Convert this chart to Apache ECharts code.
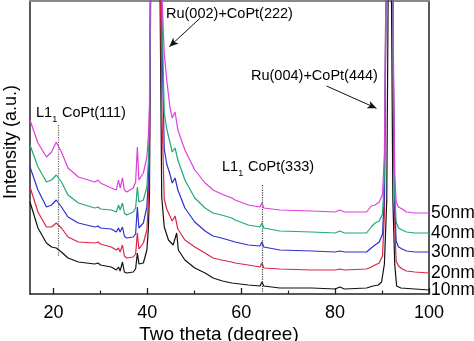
<!DOCTYPE html>
<html>
<head>
<meta charset="utf-8">
<script src="https://cdn.jsdelivr.net/npm/echarts@6/dist/echarts.min.js"></script>
<style>html,body{margin:0;padding:0;background:#fff;}#c{width:474px;height:341px;}</style>
</head>
<body>
<div id="c"></div>
<script>
// Two-theta positions (degrees) shared by the 20-50 nm curves
var thetaCommon = [15.0,16.7,18.5,19.6,20.6,21.7,23.1,25.3,28.8,29.5,30.0,32.3,33.4,33.85,34.2,34.7,35.1,35.6,37.0,37.5,37.87,38.2,39.15,39.9,40.2,40.45,40.7,41.2,41.7,42.2,42.7,43.1,43.6,44.13,44.8,45.3,45.9,46.5,48.0,50.1,52.3,53.3,53.6,54.0,55.8,58.0,58.3,58.7,61.5,64.0,64.4,64.8,68.2,75,80,81,82,86.7,87.7,88.5,89.4,90.1,90.5,90.8,91.2,91.7,92.1,92.4,92.7,93.0,93.5,94.3,95.2,97,100];
var int50 = [174,151,137,142,152,142,126,117,112,114,111,106,104,114,106,116,104,102,106,112,147,114,121,137,157,190,350,900,1200,900,400,300,240,214,187,176,182,164,144,124,111,107,109,104,100,96,98,94,89,87,91,86,84,83,82,84,82,82,88,89,92,100,140,300,800,1200,700,250,120,92,87,85,82,81,81];
var int40 = [149,127,112,114,119,112,99,91,86,87,85,84,82,89,84,91,81,79,82,86,107,92,94,107,131,170,340,900,1200,900,400,280,181,165,152,142,146,134,114,96,86,83,85,81,79,76,77,74,69,67,71,66,63,62,61,63,61,61,67,71,73,80,120,300,800,1200,700,230,100,72,66,64,62,61,61];
var int30 = [127,104,87,89,94,87,77,71,67,68,66,65,62,66,62,67,58,56,57,60,87,66,71,87,114,155,330,900,1200,900,400,260,145,130,120,111,116,104,86,72,63,60,62,58,56,53,55,52,49,48,52,47,44,43,42,43,42,42,46,49,52,60,100,280,800,1200,700,220,90,53,47,45,43,42,42];
var int20 = [107,82,67,67,71,66,57,52,51,52,50,47,44,46,42,49,38,36,37,40,61,45,51,64,91,135,320,900,1200,900,350,180,95,85,78,73,78,65,54,47,41,38,39,36,34,32,33,31,29,27,31,26,25,24,24,25,24,25,27,29,31,38,80,260,800,1200,700,200,70,33,28,25,23,22,21];
// 10 nm curve has its own sampling (narrower 91.5 peak)
var theta10 = [15.0,16.7,18.5,19.6,20.6,21.7,23.1,25.3,28.8,29.5,30.0,32.3,33.4,33.85,34.2,34.7,35.1,35.6,37.0,37.5,37.87,38.2,39.15,39.9,40.2,40.45,40.7,41.2,41.7,42.2,42.7,43.06,43.6,44.5,45.5,46.25,46.6,48.0,50.1,52.3,54.0,56.0,58.0,61.5,64.0,64.4,64.8,68.2,75,80,81,82,86.7,88.1,89.2,89.9,90.5,91.0,91.3,91.7,92.0,92.3,92.7,93.1,94,97,100];
var int10 = [92,66,51,47,46,42,36,32,30,31,29,27,24,27,23,32,22,21,22,25,41,30,31,44,64,100,300,900,1200,900,300,97,67,54,49,61,44,34,26,21,16,13,11,9,8,12,8,6,6,5,7,5,6,8,9,12,30,94,300,1000,300,94,30,8,6,5,4];

var seriesNames = ['10nm','20nm','30nm','40nm','50nm'];
var seriesColors = ['#111111','#dc2447','#2f2fd0','#1fa878','#dd3fdd'];
var xTickLabels = [20,40,60,80,100];
var xMinorTicks = [30,50,70,90];
var annotations = ['Ru(002)+CoPt(222)','Ru(004)+CoPt(444)','CoPt(111)','CoPt(333)'];

function pairs(t, v){ return t.map(function(x,i){ return [x, v[i]]; }); }
var allData = [pairs(theta10,int10), pairs(thetaCommon,int20), pairs(thetaCommon,int30), pairs(thetaCommon,int40), pairs(thetaCommon,int50)];

var FONT = 'Liberation Sans, Arial, sans-serif';
var chart = echarts.init(document.getElementById('c'), null, {renderer:'canvas'});

var series = allData.map(function(d, i){
  return {
    name: seriesNames[i], type: 'line', data: d, showSymbol: false, clip: true,
    xAxisIndex: 0, yAxisIndex: 0, z: 2 + i,
    lineStyle: {width: 1.2, color: seriesColors[i]}, itemStyle: {color: seriesColors[i]},
    endLabel: {show: true, formatter: '{a}', color: '#000', fontSize: 17.5, fontFamily: FONT, distance: 2},
    animation: false
  };
});
// annotation lines drawn in data coordinates
series[0].markLine = {
  silent: true, animation: false, symbol: ['none','none'],
  label: {show: false},
  data: [
    [{coord:[21.06,169], lineStyle:{type:'dotted', color:'#666', width:1.2}}, {coord:[21.06,37]}],
    [{coord:[64.4,109], lineStyle:{type:'dotted', color:'#444', width:1.2}}, {coord:[64.4,0]}],
    [{coord:[51.2,275.7], symbol:'none', lineStyle:{type:'solid', color:'#111', width:1}}, {coord:[44.68,247.3], symbol:'arrow', symbolSize:[6,9]}],
    [{coord:[78.17,208], symbol:'none', lineStyle:{type:'solid', color:'#111', width:1}}, {coord:[88.81,185.7], symbol:'arrow', symbolSize:[6,9]}]
  ]
};

function txt(s, x, y, size){
  return {type:'text', x:x, y:y, style:{text:s, font:size + 'px ' + FONT, fill:'#000', textAlign:'left', textVerticalAlign:'middle'}};
}

var option = {
  animation: false,
  backgroundColor: '#fff',
  grid: {left: 30, right: 45, top: 1, bottom: 47},
  xAxis: [
    {type:'value', min:15, max:100, position:'bottom',
     axisLine:{show:true, lineStyle:{color:'#222', width:1.5}},
     axisTick:{show:true, inside:true, length:6, customValues:xTickLabels, lineStyle:{color:'#222', width:1.3}},
     axisLabel:{show:true, customValues:xTickLabels, fontSize:18, fontFamily:FONT, color:'#000', margin:10},
     splitLine:{show:false}},
    {type:'value', min:15, max:100, position:'bottom',
     axisLine:{show:false},
     axisTick:{show:true, inside:true, length:3.5, customValues:xMinorTicks, lineStyle:{color:'#222', width:1.2}},
     axisLabel:{show:false}, splitLine:{show:false}},
    {type:'value', min:15, max:100, position:'top',
     axisLine:{show:true, lineStyle:{color:'#888', width:2}},
     axisTick:{show:false}, axisLabel:{show:false}, splitLine:{show:false}}
  ],
  yAxis: [
    {type:'value', min:0, max:293, position:'left',
     axisLine:{show:true, lineStyle:{color:'#222', width:1.5}},
     axisTick:{show:false}, axisLabel:{show:false}, splitLine:{show:false}},
    {type:'value', min:0, max:293, position:'right',
     axisLine:{show:true, lineStyle:{color:'#222', width:1.5}},
     axisTick:{show:false}, axisLabel:{show:false}, splitLine:{show:false}}
  ],
  graphic: [
    {type:'text', left:166, top:6, style:{text:annotations[0], font:'14.5px ' + FONT, fill:'#000'}},
    {type:'text', left:251, top:68, style:{text:annotations[1], font:'14.5px ' + FONT, fill:'#000'}},
    txt('L1', 36, 113, 14.5), txt('1', 52.3, 119.5, 9), txt(annotations[2], 62, 113, 14.5),
    txt('L1', 222, 167, 14.5), txt('1', 238.3, 173.5, 9), txt(annotations[3], 248, 167, 14.5),
    {type:'text', x:219, y:335, style:{text:'Two theta (degree)', font:'19px ' + FONT, fill:'#000', textAlign:'center', textVerticalAlign:'middle'}},
    {type:'text', x:11, y:142, rotation:Math.PI/2, style:{text:'Intensity (a.u.)', font:'18px ' + FONT, fill:'#000', textAlign:'center', textVerticalAlign:'middle'}}
  ],
  series: series
};
chart.setOption(option);
</script>
</body>
</html>
